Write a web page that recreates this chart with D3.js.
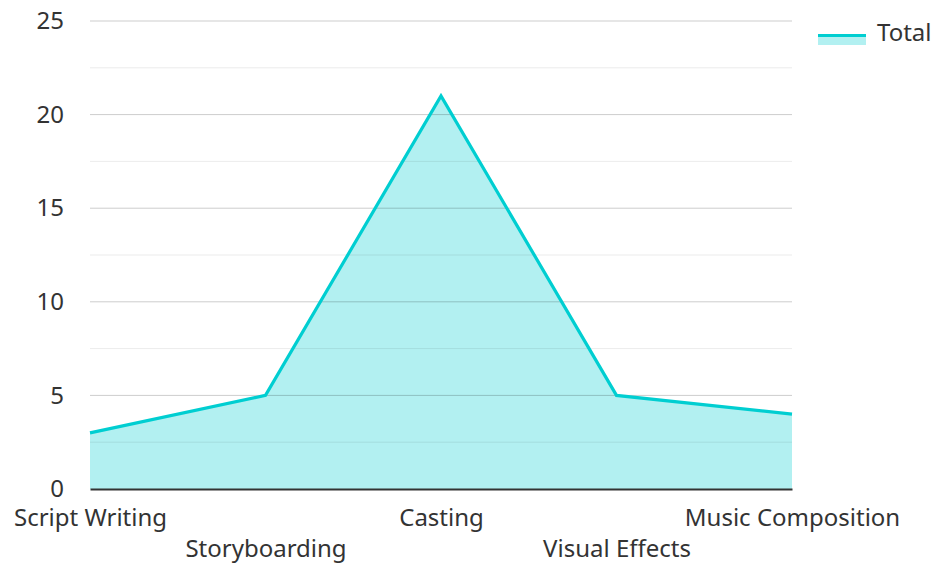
<!DOCTYPE html>
<html lang="en">
<head>
    <meta charset="UTF-8">
    <title>Total by Task</title>
    <script src="https://cdnjs.cloudflare.com/ajax/libs/d3/7.8.5/d3.min.js"></script>
    <style>
        body { margin: 0; background: #fff; font-family: "Noto Sans", sans-serif; }
        svg { display: block; }
    </style>
</head>
<body>
    <svg id="chart" width="933" height="563"></svg>
    <script>
        const categories = ["Script Writing", "Storyboarding", "Casting", "Visual Effects", "Music Composition"];
        const totals = [3, 5, 21, 5, 4];
        const yTicks = [0, 5, 10, 15, 20, 25];
        const yMinorTicks = [2.5, 7.5, 12.5, 17.5, 22.5];

        const margin = { top: 21, right: 141, bottom: 74, left: 90 };
        const width = 933 - margin.left - margin.right;
        const height = 563 - margin.top - margin.bottom;
        const lineColor = "#00CED1";

        const svg = d3.select("#chart")
            .append("g")
            .attr("transform", `translate(${margin.left},${margin.top})`);

        const x = d3.scalePoint().domain(categories).range([0, width]);
        const y = d3.scaleLinear().domain([0, 25]).range([height, 0]);

        // area first, gridlines drawn on top of it
        svg.append("path")
            .datum(totals)
            .attr("fill", lineColor)
            .attr("fill-opacity", 0.3)
            .attr("d", d3.area()
                .x((d, i) => x(categories[i]))
                .y0(y(0))
                .y1(d => y(d)));

        svg.append("g")
            .selectAll("line")
            .data(yMinorTicks)
            .join("line")
            .attr("x1", 0).attr("x2", width)
            .attr("y1", d => y(d)).attr("y2", d => y(d))
            .attr("stroke", "#000").attr("stroke-opacity", 0.08);

        svg.append("g")
            .selectAll("line")
            .data(yTicks.slice(1))
            .join("line")
            .attr("x1", 0).attr("x2", width)
            .attr("y1", d => y(d)).attr("y2", d => y(d))
            .attr("stroke", "#000").attr("stroke-opacity", 0.2);

        svg.append("path")
            .datum(totals)
            .attr("fill", "none")
            .attr("stroke", lineColor)
            .attr("stroke-width", 3.2)
            .attr("stroke-linejoin", "miter")
            .attr("d", d3.line()
                .x((d, i) => x(categories[i]))
                .y(d => y(d)));

        // y axis labels
        const yAxis = svg.append("g")
            .call(d3.axisLeft(y).tickValues(yTicks).tickSize(0).tickPadding(26));
        yAxis.select(".domain").remove();
        yAxis.selectAll("text")
            .attr("font-family", "Noto Sans, sans-serif")
            .attr("font-size", 24)
            .attr("fill", "#333");

        // x axis with staggered labels
        const xAxis = svg.append("g")
            .attr("transform", `translate(0,${height})`)
            .call(d3.axisBottom(x).tickSize(0).tickPadding(0));
        xAxis.select(".domain").attr("stroke", "#333").attr("stroke-width", 2);
        xAxis.selectAll("text")
            .attr("font-family", "Noto Sans, sans-serif")
            .attr("font-size", 24)
            .attr("fill", "#333")
            .attr("dy", 0)
            .attr("y", (d, i) => i % 2 === 0 ? 37 : 68);

        // legend
        const legend = svg.append("g")
            .attr("transform", `translate(${width + 26}, 0)`);
        legend.append("rect")
            .attr("x", 0).attr("y", 13)
            .attr("width", 48).attr("height", 11)
            .attr("fill", lineColor).attr("fill-opacity", 0.3);
        legend.append("line")
            .attr("x1", 0).attr("x2", 48)
            .attr("y1", 14.5).attr("y2", 14.5)
            .attr("stroke", lineColor).attr("stroke-width", 3.2);
        legend.append("text")
            .attr("x", 59).attr("y", 12)
            .attr("dy", "0.35em")
            .attr("font-size", 24)
            .attr("fill", "#333")
            .text("Total");
    </script>
</body>
</html>
